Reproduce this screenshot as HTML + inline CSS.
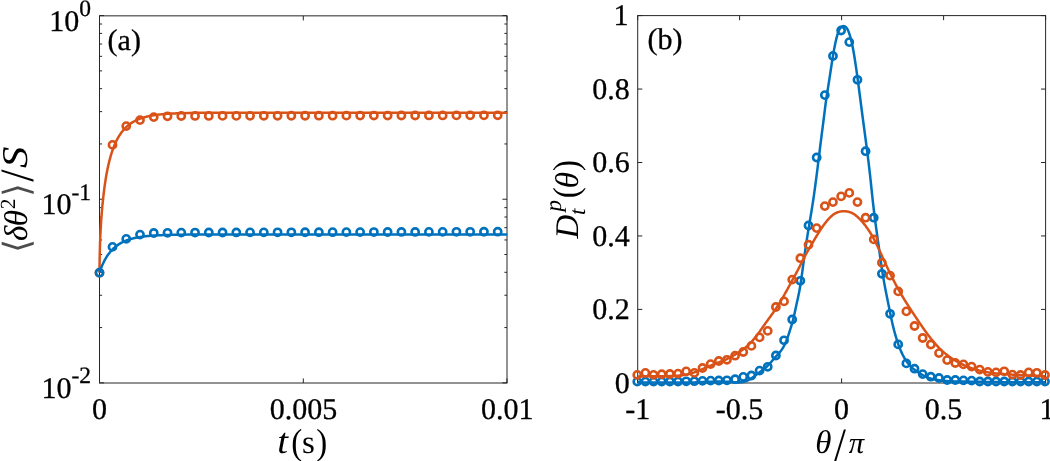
<!DOCTYPE html>
<html><head><meta charset="utf-8"><style>
html,body{margin:0;padding:0;background:#fff;}
body{width:1050px;height:461px;overflow:hidden;}
svg{display:block;text-rendering:geometricPrecision;}
</style></head><body>
<svg width="1050" height="461" viewBox="0 0 1050 461"><rect width="1050" height="461" fill="#fff"/><g fill="none" stroke="#262626" stroke-width="1.0"><rect x="99.5" y="15.85" width="407.5" height="367.15"/><rect x="637.7" y="15.6" width="407.9" height="367.4"/><path d="M99.5 383V378.4M99.5 15.85V20.45M303.3 383V378.4M303.3 15.85V20.45M507 383V378.4M507 15.85V20.45M99.5 382.85H104.1M507 382.85H502.4M99.5 199.22H104.1M507 199.22H502.4M99.5 15.6H104.1M507 15.6H502.4M637.7 383V378.4M637.7 15.6V20.2M739.6 383V378.4M739.6 15.6V20.2M841.6 383V378.4M841.6 15.6V20.2M943.6 383V378.4M943.6 15.6V20.2M1045.6 383V378.4M1045.6 15.6V20.2M637.7 382.85H642.3M1045.6 382.85H1041M637.7 309.4H642.3M1045.6 309.4H1041M637.7 235.95H642.3M1045.6 235.95H1041M637.7 162.5H642.3M1045.6 162.5H1041M637.7 89.05H642.3M1045.6 89.05H1041M637.7 15.6H642.3M1045.6 15.6H1041"/><path d="M99.5 327.57H102.1M507 327.57H504.4M99.5 295.24H102.1M507 295.24H504.4M99.5 272.3H102.1M507 272.3H504.4M99.5 254.5H102.1M507 254.5H504.4M99.5 239.96H102.1M507 239.96H504.4M99.5 227.67H102.1M507 227.67H504.4M99.5 217.02H102.1M507 217.02H504.4M99.5 207.63H102.1M507 207.63H504.4M99.5 143.95H102.1M507 143.95H504.4M99.5 111.61H102.1M507 111.61H504.4M99.5 88.67H102.1M507 88.67H504.4M99.5 70.88H102.1M507 70.88H504.4M99.5 56.34H102.1M507 56.34H504.4M99.5 44.04H102.1M507 44.04H504.4M99.5 33.4H102.1M507 33.4H504.4M99.5 24H102.1M507 24H504.4"/></g><g fill="none" stroke-linejoin="round" stroke-linecap="butt"><path d="M99.45 272.61 L99.52 267.46 L99.59 263.00 L99.66 259.09 L99.73 255.63 L99.80 252.54 L99.86 249.75 L99.93 247.22 L100.00 244.90 L100.07 242.77 L100.14 240.79 L100.21 238.94 L100.28 237.21 L100.35 235.59 L100.42 234.05 L100.49 232.59 L100.56 231.19 L100.63 229.86 L100.69 228.58 L100.76 227.35 L100.83 226.17 L100.90 225.02 L100.97 223.91 L101.04 222.83 L101.11 221.78 L101.18 220.75 L101.25 219.76 L101.32 218.78 L101.39 217.83 L101.45 216.90 L101.52 215.99 L101.59 215.09 L101.66 214.21 L101.73 213.35 L101.80 212.50 L101.87 211.67 L101.94 210.85 L102.01 210.05 L102.08 209.25 L102.15 208.47 L102.22 207.71 L102.28 206.95 L102.35 206.20 L102.42 205.47 L102.49 204.74 L102.56 204.03 L102.63 203.32 L102.70 202.62 L102.77 201.94 L102.84 201.26 L102.91 200.59 L102.98 199.93 L103.04 199.28 L103.11 198.63 L103.18 198.00 L103.25 197.37 L103.32 196.75 L103.39 196.13 L103.46 195.53 L103.53 194.93 L103.92 191.68 L104.31 188.63 L104.70 185.76 L105.09 183.05 L105.48 180.49 L105.86 178.06 L106.25 175.76 L106.64 173.58 L107.03 171.50 L107.42 169.52 L107.81 167.64 L108.20 165.84 L108.59 164.12 L108.98 162.47 L109.37 160.89 L109.76 159.38 L110.15 157.93 L110.54 156.54 L110.93 155.21 L111.32 153.92 L111.71 152.69 L112.10 151.50 L112.48 150.36 L112.87 149.26 L113.26 148.20 L113.65 147.17 L114.04 146.19 L114.43 145.23 L114.82 144.31 L115.21 143.42 L115.60 142.56 L115.99 141.73 L116.38 140.93 L116.77 140.15 L117.16 139.40 L117.55 138.67 L117.94 137.97 L118.33 137.29 L118.72 136.63 L119.10 135.99 L119.49 135.37 L119.88 134.76 L120.27 134.18 L120.66 133.61 L121.05 133.06 L121.44 132.53 L121.83 132.01 L122.22 131.51 L122.61 131.03 L123.00 130.55 L123.39 130.09 L123.78 129.65 L124.17 129.21 L124.56 128.79 L124.95 128.38 L125.34 127.98 L125.72 127.59 L126.11 127.22 L126.50 126.85 L126.89 126.49 L127.28 126.15 L127.67 125.81 L128.06 125.48 L128.45 125.16 L128.84 124.85 L129.23 124.55 L129.62 124.26 L130.01 123.97 L130.40 123.69 L130.79 123.42 L131.18 123.16 L131.57 122.90 L131.96 122.65 L132.34 122.41 L132.73 122.17 L133.12 121.94 L133.51 121.71 L133.90 121.49 L134.29 121.28 L134.68 121.07 L135.07 120.87 L135.46 120.67 L135.85 120.47 L136.24 120.29 L136.63 120.10 L137.02 119.92 L137.41 119.75 L137.80 119.58 L138.19 119.41 L138.57 119.25 L138.96 119.10 L139.35 118.94 L139.74 118.79 L140.13 118.65 L140.52 118.50 L140.91 118.37 L141.30 118.23 L141.69 118.10 L142.08 117.97 L142.47 117.84 L142.86 117.72 L143.25 117.60 L143.64 117.48 L144.03 117.37 L144.42 117.26 L144.81 117.15 L145.19 117.05 L145.58 116.94 L145.97 116.84 L146.36 116.74 L146.75 116.65 L147.14 116.55 L147.53 116.46 L147.92 116.37 L148.31 116.29 L148.70 116.20 L149.09 116.12 L149.48 116.04 L149.87 115.96 L150.26 115.88 L150.65 115.81 L151.04 115.74 L151.43 115.66 L151.81 115.59 L152.20 115.53 L152.59 115.46 L152.98 115.39 L153.37 115.33 L153.76 115.27 L154.15 115.21 L154.54 115.15 L154.93 115.09 L155.32 115.04 L155.71 114.98 L156.10 114.93 L156.49 114.88 L156.88 114.82 L157.27 114.77 L157.66 114.73 L158.05 114.68 L158.43 114.63 L158.82 114.59 L159.21 114.54 L159.60 114.50 L159.99 114.46 L160.38 114.42 L160.77 114.38 L161.16 114.34 L161.55 114.30 L161.94 114.26 L162.33 114.22 L162.72 114.19 L163.11 114.15 L163.50 114.12 L163.89 114.09 L164.28 114.05 L164.67 114.02 L165.05 113.99 L165.44 113.96 L165.83 113.93 L166.22 113.90 L166.61 113.87 L167.00 113.85 L167.39 113.82 L167.78 113.79 L168.17 113.77 L168.56 113.74 L168.95 113.72 L169.34 113.70 L169.73 113.67 L170.12 113.65 L170.51 113.63 L170.90 113.60 L171.28 113.58 L171.67 113.56 L172.06 113.54 L172.45 113.52 L172.84 113.50 L173.23 113.48 L173.62 113.47 L174.01 113.45 L174.40 113.43 L174.79 113.41 L175.18 113.40 L175.57 113.38 L175.96 113.36 L176.35 113.35 L176.74 113.33 L177.13 113.32 L177.52 113.30 L177.90 113.29 L178.29 113.28 L178.68 113.26 L179.07 113.25 L179.46 113.24 L179.85 113.22 L180.24 113.21 L180.63 113.20 L181.02 113.19 L189.39 112.99 L197.75 112.87 L206.12 112.80 L214.48 112.76 L222.85 112.73 L231.22 112.71 L239.58 112.70 L247.95 112.70 L256.32 112.69 L264.68 112.69 L273.05 112.69 L281.41 112.69 L289.78 112.69 L298.15 112.69 L306.51 112.69 L314.88 112.69 L323.24 112.69 L331.61 112.69 L339.98 112.69 L348.34 112.69 L356.71 112.69 L365.08 112.69 L373.44 112.69 L381.81 112.69 L390.17 112.69 L398.54 112.69 L406.91 112.69 L415.27 112.69 L423.64 112.69 L432.00 112.69 L440.37 112.69 L448.74 112.69 L457.10 112.69 L465.47 112.69 L473.84 112.69 L482.20 112.69 L490.57 112.69 L498.93 112.69 L507.30 112.69" stroke="#D95319" stroke-width="2.5"/><g stroke="#D95319" stroke-width="2.6"><circle cx="99.50" cy="272.70" r="3.6"/><circle cx="112.50" cy="144.90" r="3.6"/><circle cx="126.26" cy="126.10" r="3.6"/><circle cx="140.01" cy="120.10" r="3.6"/><circle cx="153.77" cy="117.10" r="3.6"/><circle cx="167.53" cy="116.30" r="3.6"/><circle cx="181.28" cy="116.00" r="3.6"/><circle cx="195.04" cy="115.97" r="3.6"/><circle cx="208.80" cy="115.94" r="3.6"/><circle cx="222.56" cy="115.91" r="3.6"/><circle cx="236.31" cy="115.88" r="3.6"/><circle cx="250.07" cy="115.85" r="3.6"/><circle cx="263.83" cy="115.82" r="3.6"/><circle cx="277.58" cy="115.79" r="3.6"/><circle cx="291.34" cy="115.76" r="3.6"/><circle cx="305.10" cy="115.73" r="3.6"/><circle cx="318.86" cy="115.70" r="3.6"/><circle cx="332.61" cy="115.67" r="3.6"/><circle cx="346.37" cy="115.63" r="3.6"/><circle cx="360.13" cy="115.60" r="3.6"/><circle cx="373.88" cy="115.57" r="3.6"/><circle cx="387.64" cy="115.54" r="3.6"/><circle cx="401.40" cy="115.51" r="3.6"/><circle cx="415.15" cy="115.48" r="3.6"/><circle cx="428.91" cy="115.45" r="3.6"/><circle cx="442.67" cy="115.42" r="3.6"/><circle cx="456.43" cy="115.39" r="3.6"/><circle cx="470.18" cy="115.36" r="3.6"/><circle cx="483.94" cy="115.33" r="3.6"/><circle cx="497.70" cy="115.30" r="3.6"/></g><path d="M99.45 272.71 L99.52 272.50 L99.59 272.30 L99.66 272.09 L99.73 271.89 L99.80 271.68 L99.86 271.48 L99.93 271.28 L100.00 271.08 L100.07 270.89 L100.14 270.69 L100.21 270.50 L100.28 270.30 L100.35 270.11 L100.42 269.92 L100.49 269.73 L100.56 269.54 L100.63 269.36 L100.69 269.17 L100.76 268.99 L100.83 268.80 L100.90 268.62 L100.97 268.44 L101.04 268.26 L101.11 268.08 L101.18 267.90 L101.25 267.73 L101.32 267.55 L101.39 267.38 L101.45 267.21 L101.52 267.03 L101.59 266.86 L101.66 266.69 L101.73 266.52 L101.80 266.36 L101.87 266.19 L101.94 266.03 L102.01 265.86 L102.08 265.70 L102.15 265.54 L102.22 265.37 L102.28 265.21 L102.35 265.05 L102.42 264.90 L102.49 264.74 L102.56 264.58 L102.63 264.43 L102.70 264.27 L102.77 264.12 L102.84 263.97 L102.91 263.82 L102.98 263.67 L103.04 263.52 L103.11 263.37 L103.18 263.22 L103.25 263.07 L103.32 262.93 L103.39 262.78 L103.46 262.64 L103.53 262.49 L103.92 261.70 L104.31 260.94 L104.70 260.20 L105.09 259.48 L105.48 258.79 L105.86 258.12 L106.25 257.47 L106.64 256.84 L107.03 256.23 L107.42 255.64 L107.81 255.07 L108.20 254.51 L108.59 253.97 L108.98 253.45 L109.37 252.95 L109.76 252.45 L110.15 251.98 L110.54 251.52 L110.93 251.07 L111.32 250.63 L111.71 250.21 L112.10 249.80 L112.48 249.40 L112.87 249.01 L113.26 248.63 L113.65 248.27 L114.04 247.91 L114.43 247.57 L114.82 247.23 L115.21 246.90 L115.60 246.58 L115.99 246.28 L116.38 245.97 L116.77 245.68 L117.16 245.40 L117.55 245.12 L117.94 244.85 L118.33 244.59 L118.72 244.33 L119.10 244.09 L119.49 243.85 L119.88 243.61 L120.27 243.38 L120.66 243.16 L121.05 242.94 L121.44 242.73 L121.83 242.53 L122.22 242.32 L122.61 242.13 L123.00 241.94 L123.39 241.76 L123.78 241.57 L124.17 241.40 L124.56 241.23 L124.95 241.06 L125.34 240.90 L125.72 240.74 L126.11 240.59 L126.50 240.44 L126.89 240.29 L127.28 240.15 L127.67 240.01 L128.06 239.87 L128.45 239.74 L128.84 239.61 L129.23 239.49 L129.62 239.37 L130.01 239.25 L130.40 239.13 L130.79 239.02 L131.18 238.91 L131.57 238.80 L131.96 238.69 L132.34 238.59 L132.73 238.49 L133.12 238.40 L133.51 238.30 L133.90 238.21 L134.29 238.12 L134.68 238.03 L135.07 237.94 L135.46 237.86 L135.85 237.78 L136.24 237.70 L136.63 237.62 L137.02 237.55 L137.41 237.47 L137.80 237.40 L138.19 237.33 L138.57 237.26 L138.96 237.19 L139.35 237.13 L139.74 237.07 L140.13 237.00 L140.52 236.94 L140.91 236.88 L141.30 236.83 L141.69 236.77 L142.08 236.72 L142.47 236.66 L142.86 236.61 L143.25 236.56 L143.64 236.51 L144.03 236.46 L144.42 236.41 L144.81 236.37 L145.19 236.32 L145.58 236.28 L145.97 236.24 L146.36 236.19 L146.75 236.15 L147.14 236.11 L147.53 236.07 L147.92 236.04 L148.31 236.00 L148.70 235.96 L149.09 235.93 L149.48 235.89 L149.87 235.86 L150.26 235.83 L150.65 235.80 L151.04 235.76 L151.43 235.73 L151.81 235.70 L152.20 235.68 L152.59 235.65 L152.98 235.62 L153.37 235.59 L153.76 235.57 L154.15 235.54 L154.54 235.52 L154.93 235.49 L155.32 235.47 L155.71 235.44 L156.10 235.42 L156.49 235.40 L156.88 235.38 L157.27 235.36 L157.66 235.34 L158.05 235.32 L158.43 235.30 L158.82 235.28 L159.21 235.26 L159.60 235.24 L159.99 235.22 L160.38 235.20 L160.77 235.19 L161.16 235.17 L161.55 235.16 L161.94 235.14 L162.33 235.12 L162.72 235.11 L163.11 235.09 L163.50 235.08 L163.89 235.07 L164.28 235.05 L164.67 235.04 L165.05 235.03 L165.44 235.01 L165.83 235.00 L166.22 234.99 L166.61 234.98 L167.00 234.97 L167.39 234.95 L167.78 234.94 L168.17 234.93 L168.56 234.92 L168.95 234.91 L169.34 234.90 L169.73 234.89 L170.12 234.88 L170.51 234.87 L170.90 234.86 L171.28 234.86 L171.67 234.85 L172.06 234.84 L172.45 234.83 L172.84 234.82 L173.23 234.81 L173.62 234.81 L174.01 234.80 L174.40 234.79 L174.79 234.78 L175.18 234.78 L175.57 234.77 L175.96 234.76 L176.35 234.76 L176.74 234.75 L177.13 234.75 L177.52 234.74 L177.90 234.73 L178.29 234.73 L178.68 234.72 L179.07 234.72 L179.46 234.71 L179.85 234.71 L180.24 234.70 L180.63 234.70 L181.02 234.69 L189.39 234.61 L197.75 234.56 L206.12 234.53 L214.48 234.52 L222.85 234.51 L231.22 234.50 L239.58 234.50 L247.95 234.50 L256.32 234.49 L264.68 234.49 L273.05 234.49 L281.41 234.49 L289.78 234.49 L298.15 234.49 L306.51 234.49 L314.88 234.49 L323.24 234.49 L331.61 234.49 L339.98 234.49 L348.34 234.49 L356.71 234.49 L365.08 234.49 L373.44 234.49 L381.81 234.49 L390.17 234.49 L398.54 234.49 L406.91 234.49 L415.27 234.49 L423.64 234.49 L432.00 234.49 L440.37 234.49 L448.74 234.49 L457.10 234.49 L465.47 234.49 L473.84 234.49 L482.20 234.49 L490.57 234.49 L498.93 234.49 L507.30 234.49" stroke="#0072BD" stroke-width="2.5"/><g stroke="#0072BD" stroke-width="2.6"><circle cx="99.50" cy="272.70" r="3.6"/><circle cx="112.50" cy="246.90" r="3.6"/><circle cx="126.26" cy="238.90" r="3.6"/><circle cx="140.01" cy="234.60" r="3.6"/><circle cx="153.77" cy="233.00" r="3.6"/><circle cx="167.53" cy="232.80" r="3.6"/><circle cx="181.28" cy="232.60" r="3.6"/><circle cx="195.04" cy="232.56" r="3.6"/><circle cx="208.80" cy="232.52" r="3.6"/><circle cx="222.56" cy="232.48" r="3.6"/><circle cx="236.31" cy="232.44" r="3.6"/><circle cx="250.07" cy="232.40" r="3.6"/><circle cx="263.83" cy="232.37" r="3.6"/><circle cx="277.58" cy="232.33" r="3.6"/><circle cx="291.34" cy="232.29" r="3.6"/><circle cx="305.10" cy="232.25" r="3.6"/><circle cx="318.86" cy="232.21" r="3.6"/><circle cx="332.61" cy="232.17" r="3.6"/><circle cx="346.37" cy="232.13" r="3.6"/><circle cx="360.13" cy="232.09" r="3.6"/><circle cx="373.88" cy="232.05" r="3.6"/><circle cx="387.64" cy="232.01" r="3.6"/><circle cx="401.40" cy="231.97" r="3.6"/><circle cx="415.15" cy="231.93" r="3.6"/><circle cx="428.91" cy="231.90" r="3.6"/><circle cx="442.67" cy="231.86" r="3.6"/><circle cx="456.43" cy="231.82" r="3.6"/><circle cx="470.18" cy="231.78" r="3.6"/><circle cx="483.94" cy="231.74" r="3.6"/><circle cx="497.70" cy="231.70" r="3.6"/></g><path d="M637.65 382.30 L638.23 382.31 L638.82 382.32 L639.40 382.33 L639.98 382.34 L640.57 382.35 L641.15 382.36 L641.73 382.37 L642.32 382.38 L642.90 382.39 L643.48 382.40 L644.07 382.40 L644.65 382.40 L645.23 382.40 L645.82 382.40 L646.40 382.40 L646.98 382.40 L647.57 382.40 L648.15 382.40 L648.73 382.40 L649.32 382.40 L649.90 382.40 L650.48 382.40 L651.07 382.40 L651.65 382.40 L652.23 382.40 L652.82 382.40 L653.40 382.40 L653.98 382.40 L654.57 382.40 L655.15 382.40 L655.73 382.40 L656.32 382.40 L656.90 382.40 L657.48 382.40 L658.07 382.40 L658.65 382.40 L659.23 382.40 L659.82 382.40 L660.40 382.40 L660.98 382.40 L661.57 382.40 L662.15 382.40 L662.73 382.40 L663.32 382.40 L663.90 382.40 L664.48 382.40 L665.07 382.40 L665.65 382.40 L666.23 382.40 L666.82 382.40 L667.40 382.40 L667.98 382.40 L668.57 382.40 L669.15 382.40 L669.73 382.40 L670.32 382.40 L670.90 382.40 L671.48 382.40 L672.07 382.40 L672.65 382.40 L673.23 382.40 L673.82 382.40 L674.40 382.40 L674.98 382.40 L675.57 382.40 L676.15 382.40 L676.73 382.40 L677.32 382.40 L677.90 382.40 L678.48 382.40 L679.07 382.40 L679.65 382.40 L680.23 382.40 L680.82 382.40 L681.40 382.40 L681.98 382.40 L682.57 382.40 L683.15 382.40 L683.73 382.40 L684.32 382.40 L684.90 382.40 L685.48 382.40 L686.07 382.40 L686.65 382.40 L687.23 382.40 L687.82 382.40 L688.40 382.40 L688.98 382.40 L689.57 382.40 L690.15 382.40 L690.73 382.40 L691.32 382.40 L691.90 382.40 L692.48 382.40 L693.07 382.40 L693.65 382.40 L694.23 382.40 L694.82 382.38 L695.40 382.37 L695.98 382.35 L696.57 382.33 L697.15 382.31 L697.73 382.29 L698.32 382.27 L698.90 382.24 L699.48 382.22 L700.07 382.20 L700.65 382.17 L701.23 382.15 L701.82 382.12 L702.40 382.10 L702.98 382.07 L703.57 382.05 L704.15 382.02 L704.73 382.00 L705.32 381.97 L705.90 381.94 L706.48 381.92 L707.07 381.89 L707.65 381.87 L708.23 381.84 L708.82 381.82 L709.40 381.79 L709.98 381.77 L710.57 381.75 L711.15 381.72 L711.73 381.70 L712.32 381.68 L712.90 381.66 L713.48 381.65 L714.07 381.63 L714.65 381.61 L715.23 381.60 L715.82 381.59 L716.40 381.57 L716.98 381.56 L717.57 381.56 L718.15 381.55 L718.73 381.54 L719.32 381.54 L719.90 381.54 L720.48 381.54 L721.07 381.54 L721.65 381.55 L722.23 381.56 L722.82 381.57 L723.40 381.58 L723.98 381.59 L724.57 381.61 L725.15 381.63 L725.73 381.65 L726.32 381.68 L726.90 381.70 L727.48 381.73 L728.07 381.77 L728.65 381.80 L729.23 381.85 L729.82 381.89 L730.40 381.93 L730.98 381.98 L731.57 382.04 L732.15 382.09 L732.73 382.14 L733.32 382.19 L733.90 382.24 L734.48 382.28 L735.07 382.32 L735.65 382.36 L736.23 382.39 L736.82 382.40 L737.40 382.40 L737.98 382.40 L738.57 382.40 L739.15 382.40 L739.73 382.40 L740.32 382.36 L740.90 382.31 L741.48 382.25 L742.07 382.17 L742.65 382.07 L743.23 381.96 L743.82 381.82 L744.40 381.67 L744.98 381.50 L745.57 381.31 L746.15 381.10 L746.73 380.86 L747.32 380.61 L747.90 380.34 L748.48 380.05 L749.07 379.74 L749.65 379.42 L750.23 379.07 L750.82 378.71 L751.40 378.34 L751.98 377.95 L752.57 377.54 L753.15 377.13 L753.73 376.70 L754.32 376.27 L754.90 375.83 L755.48 375.38 L756.07 374.94 L756.65 374.49 L757.23 374.03 L757.82 373.59 L758.40 373.14 L758.98 372.70 L759.57 372.26 L760.15 371.83 L760.73 371.40 L761.32 370.98 L761.90 370.55 L762.48 370.11 L763.07 369.67 L763.65 369.23 L764.23 368.77 L764.82 368.30 L765.40 367.81 L765.98 367.30 L766.57 366.78 L767.15 366.24 L767.73 365.67 L768.32 365.08 L768.90 364.47 L769.48 363.84 L770.07 363.20 L770.65 362.55 L771.23 361.88 L771.82 361.21 L772.40 360.54 L772.98 359.86 L773.57 359.18 L774.15 358.51 L774.73 357.84 L775.32 357.17 L775.90 356.52 L776.48 355.88 L777.07 355.25 L777.65 354.61 L778.23 353.97 L778.82 353.31 L779.40 352.64 L779.98 351.93 L780.57 351.20 L781.15 350.43 L781.73 349.61 L782.32 348.74 L782.90 347.81 L783.48 346.81 L784.07 345.75 L784.65 344.61 L785.23 343.38 L785.82 342.06 L786.40 340.65 L786.98 339.13 L787.57 337.52 L788.15 335.84 L788.73 334.09 L789.32 332.29 L789.90 330.47 L790.48 328.63 L791.07 326.77 L791.65 324.86 L792.23 322.87 L792.82 320.76 L793.40 318.50 L793.98 316.07 L794.57 313.46 L795.15 310.76 L795.73 308.00 L796.32 305.25 L796.90 302.56 L797.48 299.95 L798.07 297.32 L798.65 294.59 L799.23 291.67 L799.82 288.46 L800.40 284.92 L800.98 281.10 L801.57 277.05 L802.15 272.84 L802.73 268.52 L803.32 264.14 L803.90 259.78 L804.48 255.48 L805.07 251.30 L805.65 247.27 L806.23 243.37 L806.82 239.58 L807.40 235.89 L807.98 232.28 L808.57 228.73 L809.15 225.22 L809.73 221.73 L810.32 218.25 L810.90 214.74 L811.48 211.19 L812.07 207.57 L812.65 203.86 L813.23 200.03 L813.82 196.06 L814.40 191.95 L814.98 187.72 L815.57 183.37 L816.15 178.93 L816.73 174.41 L817.32 169.81 L817.90 165.16 L818.48 160.46 L819.07 155.73 L819.65 150.98 L820.23 146.25 L820.82 141.57 L821.40 136.97 L821.98 132.43 L822.57 127.93 L823.15 123.38 L823.73 118.76 L824.32 114.04 L824.90 109.33 L825.48 104.76 L826.07 100.47 L826.65 96.50 L827.23 92.75 L827.82 89.08 L828.40 85.40 L828.98 81.67 L829.57 77.91 L830.15 74.10 L830.73 70.25 L831.32 66.38 L831.90 62.55 L832.48 58.82 L833.07 55.24 L833.65 51.85 L834.23 48.65 L834.82 45.66 L835.40 42.87 L835.98 40.29 L836.57 37.90 L837.15 35.73 L837.73 33.78 L838.32 32.07 L838.90 30.61 L839.48 29.40 L840.07 28.41 L840.65 27.62 L841.23 27.02 L841.82 26.59 L842.40 26.30 L842.98 26.15 L843.57 26.10 L844.15 26.16 L844.73 26.34 L845.32 26.66 L845.90 27.14 L846.48 27.78 L847.07 28.61 L847.65 29.63 L848.23 30.87 L848.82 32.32 L849.40 33.98 L849.98 35.83 L850.57 37.87 L851.15 40.11 L851.73 42.55 L852.32 45.23 L852.90 48.16 L853.48 51.33 L854.07 54.71 L854.65 58.28 L855.23 62.01 L855.82 65.89 L856.40 69.91 L856.98 74.04 L857.57 78.29 L858.15 82.62 L858.73 87.03 L859.32 91.49 L859.90 95.99 L860.48 100.51 L861.07 105.03 L861.65 109.53 L862.23 113.97 L862.82 118.38 L863.40 122.76 L863.98 127.12 L864.57 131.48 L865.15 135.84 L865.73 140.23 L866.32 144.65 L866.90 149.12 L867.48 153.67 L868.07 158.32 L868.65 163.08 L869.23 167.99 L869.82 173.06 L870.40 178.31 L870.98 183.75 L871.57 189.29 L872.15 194.83 L872.73 200.27 L873.32 205.50 L873.90 210.50 L874.48 215.27 L875.07 219.85 L875.65 224.25 L876.23 228.51 L876.82 232.67 L877.40 236.82 L877.98 241.02 L878.57 245.26 L879.15 249.53 L879.73 253.78 L880.32 257.98 L880.90 262.12 L881.48 266.14 L882.07 270.02 L882.65 273.73 L883.23 277.27 L883.82 280.66 L884.40 283.90 L884.98 287.03 L885.57 290.05 L886.15 293.00 L886.73 295.91 L887.32 298.80 L887.90 301.72 L888.48 304.65 L889.07 307.57 L889.65 310.48 L890.23 313.35 L890.82 316.17 L891.40 318.93 L891.98 321.60 L892.57 324.16 L893.15 326.62 L893.73 328.97 L894.32 331.21 L894.90 333.36 L895.48 335.42 L896.07 337.40 L896.65 339.30 L897.23 341.12 L897.82 342.87 L898.40 344.55 L898.98 346.15 L899.57 347.69 L900.15 349.15 L900.73 350.54 L901.32 351.87 L901.90 353.13 L902.48 354.33 L903.07 355.47 L903.65 356.56 L904.23 357.60 L904.82 358.59 L905.40 359.54 L905.98 360.45 L906.57 361.33 L907.15 362.18 L907.73 362.98 L908.32 363.75 L908.90 364.47 L909.48 365.15 L910.07 365.79 L910.65 366.39 L911.23 366.96 L911.82 367.50 L912.40 368.01 L912.98 368.49 L913.57 368.95 L914.15 369.40 L914.73 369.83 L915.32 370.25 L915.90 370.66 L916.48 371.07 L917.07 371.47 L917.65 371.87 L918.23 372.27 L918.82 372.66 L919.40 373.04 L919.98 373.42 L920.57 373.79 L921.15 374.16 L921.73 374.51 L922.32 374.86 L922.90 375.20 L923.48 375.52 L924.07 375.83 L924.65 376.14 L925.23 376.42 L925.82 376.70 L926.40 376.96 L926.98 377.20 L927.57 377.43 L928.15 377.65 L928.73 377.86 L929.32 378.06 L929.90 378.25 L930.48 378.43 L931.07 378.59 L931.65 378.75 L932.23 378.91 L932.82 379.05 L933.40 379.19 L933.98 379.32 L934.57 379.45 L935.15 379.57 L935.73 379.68 L936.32 379.79 L936.90 379.90 L937.48 380.00 L938.07 380.10 L938.65 380.19 L939.23 380.28 L939.82 380.36 L940.40 380.44 L940.98 380.51 L941.57 380.59 L942.15 380.65 L942.73 380.72 L943.32 380.78 L943.90 380.83 L944.48 380.89 L945.07 380.94 L945.65 380.98 L946.23 381.03 L946.82 381.07 L947.40 381.10 L947.98 381.14 L948.57 381.17 L949.15 381.20 L949.73 381.23 L950.32 381.26 L950.90 381.28 L951.48 381.31 L952.07 381.33 L952.65 381.35 L953.23 381.36 L953.82 381.38 L954.40 381.40 L954.98 381.41 L955.57 381.42 L956.15 381.43 L956.73 381.45 L957.32 381.46 L957.90 381.47 L958.48 381.48 L959.07 381.49 L959.65 381.49 L960.23 381.50 L960.82 381.51 L961.40 381.52 L961.98 381.53 L962.57 381.54 L963.15 381.55 L963.73 381.56 L964.32 381.57 L964.90 381.58 L965.48 381.59 L966.07 381.60 L966.65 381.61 L967.23 381.62 L967.82 381.63 L968.40 381.64 L968.98 381.65 L969.57 381.66 L970.15 381.67 L970.73 381.68 L971.32 381.69 L971.90 381.70 L972.48 381.70 L973.07 381.71 L973.65 381.72 L974.23 381.73 L974.82 381.74 L975.40 381.75 L975.98 381.76 L976.57 381.77 L977.15 381.78 L977.73 381.79 L978.32 381.80 L978.90 381.81 L979.48 381.82 L980.07 381.83 L980.65 381.84 L981.23 381.85 L981.82 381.86 L982.40 381.86 L982.98 381.87 L983.57 381.88 L984.15 381.89 L984.73 381.90 L985.32 381.91 L985.90 381.92 L986.48 381.93 L987.07 381.94 L987.65 381.94 L988.23 381.95 L988.82 381.96 L989.40 381.97 L989.98 381.98 L990.57 381.98 L991.15 381.99 L991.73 382.00 L992.32 382.01 L992.90 382.02 L993.48 382.02 L994.07 382.03 L994.65 382.04 L995.23 382.05 L995.82 382.05 L996.40 382.06 L996.98 382.07 L997.57 382.07 L998.15 382.08 L998.73 382.09 L999.32 382.09 L999.90 382.10 L1000.48 382.11 L1001.07 382.11 L1001.65 382.12 L1002.23 382.12 L1002.82 382.13 L1003.40 382.13 L1003.98 382.14 L1004.57 382.14 L1005.15 382.15 L1005.73 382.15 L1006.32 382.16 L1006.90 382.16 L1007.48 382.17 L1008.07 382.17 L1008.65 382.18 L1009.23 382.18 L1009.82 382.19 L1010.40 382.19 L1010.98 382.19 L1011.57 382.20 L1012.15 382.20 L1012.73 382.20 L1013.32 382.21 L1013.90 382.21 L1014.48 382.21 L1015.07 382.22 L1015.65 382.22 L1016.23 382.22 L1016.82 382.23 L1017.40 382.23 L1017.98 382.23 L1018.57 382.24 L1019.15 382.24 L1019.73 382.24 L1020.32 382.24 L1020.90 382.25 L1021.48 382.25 L1022.07 382.25 L1022.65 382.25 L1023.23 382.25 L1023.82 382.26 L1024.40 382.26 L1024.98 382.26 L1025.57 382.26 L1026.15 382.26 L1026.73 382.27 L1027.32 382.27 L1027.90 382.27 L1028.48 382.27 L1029.07 382.27 L1029.65 382.27 L1030.23 382.27 L1030.82 382.28 L1031.40 382.28 L1031.98 382.28 L1032.57 382.28 L1033.15 382.28 L1033.73 382.28 L1034.32 382.28 L1034.90 382.28 L1035.48 382.29 L1036.07 382.29 L1036.65 382.29 L1037.23 382.29 L1037.82 382.29 L1038.40 382.29 L1038.98 382.29 L1039.57 382.29 L1040.15 382.29 L1040.73 382.29 L1041.32 382.29 L1041.90 382.30 L1042.48 382.30 L1043.07 382.30 L1043.65 382.30 L1044.23 382.30 L1044.82 382.30 L1045.40 382.30" stroke="#0072BD" stroke-width="2.5"/><g stroke="#0072BD" stroke-width="2.6"><circle cx="637.25" cy="381.60" r="3.6"/><circle cx="645.40" cy="381.60" r="3.6"/><circle cx="653.56" cy="381.60" r="3.6"/><circle cx="661.72" cy="381.60" r="3.6"/><circle cx="669.87" cy="381.50" r="3.6"/><circle cx="678.02" cy="381.50" r="3.6"/><circle cx="686.18" cy="381.30" r="3.6"/><circle cx="694.34" cy="381.20" r="3.6"/><circle cx="702.49" cy="380.90" r="3.6"/><circle cx="710.64" cy="380.60" r="3.6"/><circle cx="718.80" cy="380.50" r="3.6"/><circle cx="726.96" cy="380.30" r="3.6"/><circle cx="735.11" cy="379.20" r="3.6"/><circle cx="743.26" cy="376.90" r="3.6"/><circle cx="751.42" cy="375.50" r="3.6"/><circle cx="759.58" cy="370.60" r="3.6"/><circle cx="767.73" cy="366.80" r="3.6"/><circle cx="775.89" cy="355.50" r="3.6"/><circle cx="784.04" cy="340.30" r="3.6"/><circle cx="792.20" cy="319.50" r="3.6"/><circle cx="800.35" cy="280.80" r="3.6"/><circle cx="808.50" cy="225.50" r="3.6"/><circle cx="816.66" cy="157.50" r="3.6"/><circle cx="824.82" cy="95.10" r="3.6"/><circle cx="832.97" cy="56.00" r="3.6"/><circle cx="841.13" cy="30.50" r="3.6"/><circle cx="849.28" cy="42.10" r="3.6"/><circle cx="857.44" cy="79.80" r="3.6"/><circle cx="865.59" cy="151.20" r="3.6"/><circle cx="873.75" cy="217.70" r="3.6"/><circle cx="881.90" cy="273.80" r="3.6"/><circle cx="890.06" cy="313.80" r="3.6"/><circle cx="898.21" cy="344.40" r="3.6"/><circle cx="906.37" cy="363.40" r="3.6"/><circle cx="914.52" cy="368.70" r="3.6"/><circle cx="922.68" cy="374.10" r="3.6"/><circle cx="930.83" cy="376.70" r="3.6"/><circle cx="938.99" cy="378.00" r="3.6"/><circle cx="947.14" cy="380.00" r="3.6"/><circle cx="955.30" cy="380.00" r="3.6"/><circle cx="963.45" cy="380.40" r="3.6"/><circle cx="971.61" cy="380.60" r="3.6"/><circle cx="979.76" cy="381.50" r="3.6"/><circle cx="987.92" cy="381.50" r="3.6"/><circle cx="996.07" cy="381.50" r="3.6"/><circle cx="1004.23" cy="381.50" r="3.6"/><circle cx="1012.38" cy="381.50" r="3.6"/><circle cx="1020.54" cy="381.50" r="3.6"/><circle cx="1028.69" cy="381.50" r="3.6"/><circle cx="1036.85" cy="381.50" r="3.6"/><circle cx="1045.00" cy="381.50" r="3.6"/></g><path d="M637.65 376.40 L638.23 376.40 L638.82 376.39 L639.40 376.39 L639.98 376.39 L640.57 376.39 L641.15 376.38 L641.73 376.38 L642.32 376.38 L642.90 376.38 L643.48 376.37 L644.07 376.37 L644.65 376.37 L645.23 376.36 L645.82 376.36 L646.40 376.36 L646.98 376.35 L647.57 376.35 L648.15 376.35 L648.73 376.34 L649.32 376.34 L649.90 376.34 L650.48 376.33 L651.07 376.33 L651.65 376.33 L652.23 376.32 L652.82 376.32 L653.40 376.31 L653.98 376.31 L654.57 376.31 L655.15 376.30 L655.73 376.30 L656.32 376.29 L656.90 376.29 L657.48 376.28 L658.07 376.28 L658.65 376.27 L659.23 376.27 L659.82 376.26 L660.40 376.26 L660.98 376.25 L661.57 376.24 L662.15 376.24 L662.73 376.23 L663.32 376.22 L663.90 376.22 L664.48 376.21 L665.07 376.20 L665.65 376.20 L666.23 376.19 L666.82 376.18 L667.40 376.17 L667.98 376.16 L668.57 376.15 L669.15 376.14 L669.73 376.12 L670.32 376.11 L670.90 376.09 L671.48 376.08 L672.07 376.06 L672.65 376.03 L673.23 376.01 L673.82 375.98 L674.40 375.95 L674.98 375.92 L675.57 375.89 L676.15 375.85 L676.73 375.81 L677.32 375.77 L677.90 375.72 L678.48 375.67 L679.07 375.62 L679.65 375.56 L680.23 375.49 L680.82 375.43 L681.40 375.36 L681.98 375.28 L682.57 375.20 L683.15 375.12 L683.73 375.03 L684.32 374.93 L684.90 374.83 L685.48 374.73 L686.07 374.62 L686.65 374.50 L687.23 374.38 L687.82 374.25 L688.40 374.11 L688.98 373.97 L689.57 373.83 L690.15 373.67 L690.73 373.51 L691.32 373.34 L691.90 373.17 L692.48 372.99 L693.07 372.80 L693.65 372.60 L694.23 372.40 L694.82 372.18 L695.40 371.97 L695.98 371.74 L696.57 371.51 L697.15 371.27 L697.73 371.04 L698.32 370.79 L698.90 370.55 L699.48 370.30 L700.07 370.05 L700.65 369.80 L701.23 369.55 L701.82 369.30 L702.40 369.05 L702.98 368.80 L703.57 368.56 L704.15 368.31 L704.73 368.07 L705.32 367.82 L705.90 367.58 L706.48 367.34 L707.07 367.10 L707.65 366.85 L708.23 366.61 L708.82 366.37 L709.40 366.13 L709.98 365.89 L710.57 365.65 L711.15 365.40 L711.73 365.16 L712.32 364.92 L712.90 364.68 L713.48 364.44 L714.07 364.19 L714.65 363.95 L715.23 363.71 L715.82 363.48 L716.40 363.24 L716.98 363.01 L717.57 362.77 L718.15 362.54 L718.73 362.31 L719.32 362.09 L719.90 361.86 L720.48 361.64 L721.07 361.42 L721.65 361.19 L722.23 360.97 L722.82 360.74 L723.40 360.51 L723.98 360.27 L724.57 360.03 L725.15 359.79 L725.73 359.54 L726.32 359.28 L726.90 359.01 L727.48 358.74 L728.07 358.45 L728.65 358.16 L729.23 357.86 L729.82 357.56 L730.40 357.25 L730.98 356.93 L731.57 356.61 L732.15 356.28 L732.73 355.95 L733.32 355.61 L733.90 355.28 L734.48 354.94 L735.07 354.59 L735.65 354.25 L736.23 353.90 L736.82 353.55 L737.40 353.20 L737.98 352.85 L738.57 352.48 L739.15 352.12 L739.73 351.74 L740.32 351.36 L740.90 350.97 L741.48 350.57 L742.07 350.17 L742.65 349.75 L743.23 349.32 L743.82 348.88 L744.40 348.43 L744.98 347.96 L745.57 347.48 L746.15 346.99 L746.73 346.48 L747.32 345.96 L747.90 345.42 L748.48 344.87 L749.07 344.30 L749.65 343.72 L750.23 343.13 L750.82 342.52 L751.40 341.90 L751.98 341.26 L752.57 340.61 L753.15 339.94 L753.73 339.26 L754.32 338.56 L754.90 337.85 L755.48 337.12 L756.07 336.38 L756.65 335.62 L757.23 334.85 L757.82 334.07 L758.40 333.28 L758.98 332.48 L759.57 331.67 L760.15 330.85 L760.73 330.02 L761.32 329.20 L761.90 328.36 L762.48 327.53 L763.07 326.70 L763.65 325.86 L764.23 325.03 L764.82 324.21 L765.40 323.38 L765.98 322.57 L766.57 321.76 L767.15 320.95 L767.73 320.15 L768.32 319.35 L768.90 318.55 L769.48 317.75 L770.07 316.95 L770.65 316.15 L771.23 315.35 L771.82 314.54 L772.40 313.73 L772.98 312.91 L773.57 312.08 L774.15 311.24 L774.73 310.39 L775.32 309.54 L775.90 308.67 L776.48 307.78 L777.07 306.89 L777.65 305.98 L778.23 305.06 L778.82 304.13 L779.40 303.19 L779.98 302.23 L780.57 301.27 L781.15 300.30 L781.73 299.31 L782.32 298.32 L782.90 297.32 L783.48 296.30 L784.07 295.28 L784.65 294.25 L785.23 293.21 L785.82 292.17 L786.40 291.11 L786.98 290.05 L787.57 288.98 L788.15 287.91 L788.73 286.84 L789.32 285.76 L789.90 284.68 L790.48 283.60 L791.07 282.52 L791.65 281.45 L792.23 280.38 L792.82 279.31 L793.40 278.25 L793.98 277.19 L794.57 276.13 L795.15 275.07 L795.73 274.00 L796.32 272.93 L796.90 271.85 L797.48 270.75 L798.07 269.64 L798.65 268.52 L799.23 267.38 L799.82 266.22 L800.40 265.05 L800.98 263.87 L801.57 262.69 L802.15 261.52 L802.73 260.35 L803.32 259.19 L803.90 258.05 L804.48 256.93 L805.07 255.83 L805.65 254.75 L806.23 253.69 L806.82 252.64 L807.40 251.61 L807.98 250.58 L808.57 249.57 L809.15 248.56 L809.73 247.56 L810.32 246.55 L810.90 245.56 L811.48 244.56 L812.07 243.57 L812.65 242.58 L813.23 241.59 L813.82 240.61 L814.40 239.63 L814.98 238.66 L815.57 237.69 L816.15 236.73 L816.73 235.77 L817.32 234.82 L817.90 233.88 L818.48 232.94 L819.07 232.01 L819.65 231.10 L820.23 230.19 L820.82 229.29 L821.40 228.41 L821.98 227.54 L822.57 226.69 L823.15 225.85 L823.73 225.03 L824.32 224.22 L824.90 223.44 L825.48 222.67 L826.07 221.92 L826.65 221.20 L827.23 220.49 L827.82 219.81 L828.40 219.15 L828.98 218.51 L829.57 217.90 L830.15 217.32 L830.73 216.76 L831.32 216.23 L831.90 215.72 L832.48 215.24 L833.07 214.80 L833.65 214.38 L834.23 213.99 L834.82 213.63 L835.40 213.30 L835.98 213.00 L836.57 212.73 L837.15 212.48 L837.73 212.26 L838.32 212.06 L838.90 211.89 L839.48 211.74 L840.07 211.61 L840.65 211.51 L841.23 211.42 L841.82 211.35 L842.40 211.30 L842.98 211.27 L843.57 211.25 L844.15 211.25 L844.73 211.27 L845.32 211.30 L845.90 211.34 L846.48 211.41 L847.07 211.49 L847.65 211.59 L848.23 211.71 L848.82 211.85 L849.40 212.01 L849.98 212.19 L850.57 212.40 L851.15 212.63 L851.73 212.89 L852.32 213.18 L852.90 213.49 L853.48 213.83 L854.07 214.19 L854.65 214.59 L855.23 215.01 L855.82 215.45 L856.40 215.92 L856.98 216.42 L857.57 216.93 L858.15 217.47 L858.73 218.03 L859.32 218.61 L859.90 219.20 L860.48 219.82 L861.07 220.45 L861.65 221.10 L862.23 221.77 L862.82 222.45 L863.40 223.15 L863.98 223.86 L864.57 224.59 L865.15 225.34 L865.73 226.11 L866.32 226.89 L866.90 227.69 L867.48 228.51 L868.07 229.35 L868.65 230.22 L869.23 231.10 L869.82 232.01 L870.40 232.94 L870.98 233.89 L871.57 234.86 L872.15 235.86 L872.73 236.89 L873.32 237.94 L873.90 239.01 L874.48 240.12 L875.07 241.25 L875.65 242.40 L876.23 243.58 L876.82 244.77 L877.40 245.99 L877.98 247.22 L878.57 248.46 L879.15 249.72 L879.73 250.98 L880.32 252.26 L880.90 253.54 L881.48 254.82 L882.07 256.10 L882.65 257.39 L883.23 258.67 L883.82 259.95 L884.40 261.22 L884.98 262.49 L885.57 263.75 L886.15 265.00 L886.73 266.26 L887.32 267.50 L887.90 268.74 L888.48 269.96 L889.07 271.19 L889.65 272.40 L890.23 273.60 L890.82 274.80 L891.40 275.99 L891.98 277.16 L892.57 278.33 L893.15 279.49 L893.73 280.63 L894.32 281.77 L894.90 282.89 L895.48 284.01 L896.07 285.11 L896.65 286.20 L897.23 287.28 L897.82 288.36 L898.40 289.41 L898.98 290.46 L899.57 291.50 L900.15 292.52 L900.73 293.53 L901.32 294.53 L901.90 295.52 L902.48 296.50 L903.07 297.47 L903.65 298.43 L904.23 299.38 L904.82 300.33 L905.40 301.26 L905.98 302.19 L906.57 303.12 L907.15 304.03 L907.73 304.95 L908.32 305.85 L908.90 306.76 L909.48 307.66 L910.07 308.55 L910.65 309.45 L911.23 310.34 L911.82 311.23 L912.40 312.11 L912.98 312.99 L913.57 313.88 L914.15 314.75 L914.73 315.63 L915.32 316.51 L915.90 317.38 L916.48 318.25 L917.07 319.12 L917.65 319.99 L918.23 320.86 L918.82 321.73 L919.40 322.59 L919.98 323.45 L920.57 324.31 L921.15 325.17 L921.73 326.02 L922.32 326.86 L922.90 327.70 L923.48 328.54 L924.07 329.37 L924.65 330.19 L925.23 331.00 L925.82 331.81 L926.40 332.61 L926.98 333.40 L927.57 334.19 L928.15 334.97 L928.73 335.74 L929.32 336.50 L929.90 337.25 L930.48 338.00 L931.07 338.73 L931.65 339.46 L932.23 340.18 L932.82 340.89 L933.40 341.59 L933.98 342.28 L934.57 342.96 L935.15 343.63 L935.73 344.29 L936.32 344.94 L936.90 345.58 L937.48 346.21 L938.07 346.83 L938.65 347.43 L939.23 348.03 L939.82 348.61 L940.40 349.18 L940.98 349.75 L941.57 350.30 L942.15 350.84 L942.73 351.37 L943.32 351.89 L943.90 352.39 L944.48 352.89 L945.07 353.38 L945.65 353.86 L946.23 354.33 L946.82 354.80 L947.40 355.25 L947.98 355.69 L948.57 356.13 L949.15 356.56 L949.73 356.97 L950.32 357.38 L950.90 357.79 L951.48 358.18 L952.07 358.57 L952.65 358.95 L953.23 359.32 L953.82 359.69 L954.40 360.05 L954.98 360.40 L955.57 360.75 L956.15 361.09 L956.73 361.43 L957.32 361.75 L957.90 362.08 L958.48 362.39 L959.07 362.71 L959.65 363.01 L960.23 363.32 L960.82 363.61 L961.40 363.91 L961.98 364.19 L962.57 364.47 L963.15 364.75 L963.73 365.02 L964.32 365.29 L964.90 365.55 L965.48 365.81 L966.07 366.06 L966.65 366.31 L967.23 366.55 L967.82 366.79 L968.40 367.02 L968.98 367.25 L969.57 367.47 L970.15 367.69 L970.73 367.90 L971.32 368.11 L971.90 368.32 L972.48 368.52 L973.07 368.72 L973.65 368.91 L974.23 369.09 L974.82 369.28 L975.40 369.46 L975.98 369.63 L976.57 369.80 L977.15 369.97 L977.73 370.13 L978.32 370.28 L978.90 370.44 L979.48 370.59 L980.07 370.73 L980.65 370.87 L981.23 371.01 L981.82 371.14 L982.40 371.27 L982.98 371.40 L983.57 371.52 L984.15 371.64 L984.73 371.76 L985.32 371.87 L985.90 371.98 L986.48 372.08 L987.07 372.18 L987.65 372.28 L988.23 372.38 L988.82 372.47 L989.40 372.57 L989.98 372.65 L990.57 372.74 L991.15 372.82 L991.73 372.90 L992.32 372.98 L992.90 373.05 L993.48 373.13 L994.07 373.20 L994.65 373.26 L995.23 373.33 L995.82 373.39 L996.40 373.46 L996.98 373.52 L997.57 373.57 L998.15 373.63 L998.73 373.69 L999.32 373.74 L999.90 373.79 L1000.48 373.84 L1001.07 373.89 L1001.65 373.94 L1002.23 373.98 L1002.82 374.03 L1003.40 374.07 L1003.98 374.11 L1004.57 374.15 L1005.15 374.19 L1005.73 374.23 L1006.32 374.27 L1006.90 374.31 L1007.48 374.35 L1008.07 374.38 L1008.65 374.42 L1009.23 374.46 L1009.82 374.49 L1010.40 374.53 L1010.98 374.56 L1011.57 374.60 L1012.15 374.63 L1012.73 374.66 L1013.32 374.70 L1013.90 374.73 L1014.48 374.76 L1015.07 374.80 L1015.65 374.83 L1016.23 374.86 L1016.82 374.90 L1017.40 374.93 L1017.98 374.96 L1018.57 374.99 L1019.15 375.02 L1019.73 375.05 L1020.32 375.09 L1020.90 375.12 L1021.48 375.15 L1022.07 375.18 L1022.65 375.21 L1023.23 375.24 L1023.82 375.27 L1024.40 375.30 L1024.98 375.33 L1025.57 375.36 L1026.15 375.39 L1026.73 375.42 L1027.32 375.45 L1027.90 375.47 L1028.48 375.50 L1029.07 375.53 L1029.65 375.56 L1030.23 375.59 L1030.82 375.62 L1031.40 375.65 L1031.98 375.67 L1032.57 375.70 L1033.15 375.73 L1033.73 375.76 L1034.32 375.78 L1034.90 375.81 L1035.48 375.84 L1036.07 375.87 L1036.65 375.89 L1037.23 375.92 L1037.82 375.95 L1038.40 375.98 L1038.98 376.00 L1039.57 376.03 L1040.15 376.06 L1040.73 376.08 L1041.32 376.11 L1041.90 376.14 L1042.48 376.17 L1043.07 376.19 L1043.65 376.22 L1044.23 376.25 L1044.82 376.27 L1045.40 376.30" stroke="#D95319" stroke-width="2.5"/><g stroke="#D95319" stroke-width="2.6"><circle cx="637.25" cy="374.90" r="3.6"/><circle cx="645.40" cy="372.90" r="3.6"/><circle cx="653.56" cy="374.90" r="3.6"/><circle cx="661.72" cy="374.20" r="3.6"/><circle cx="669.87" cy="374.00" r="3.6"/><circle cx="678.02" cy="373.60" r="3.6"/><circle cx="686.18" cy="371.40" r="3.6"/><circle cx="694.34" cy="372.90" r="3.6"/><circle cx="702.49" cy="368.00" r="3.6"/><circle cx="710.64" cy="364.10" r="3.6"/><circle cx="718.80" cy="361.00" r="3.6"/><circle cx="726.96" cy="359.80" r="3.6"/><circle cx="735.11" cy="355.70" r="3.6"/><circle cx="743.26" cy="352.00" r="3.6"/><circle cx="751.42" cy="345.90" r="3.6"/><circle cx="759.58" cy="337.40" r="3.6"/><circle cx="767.73" cy="330.90" r="3.6"/><circle cx="775.89" cy="307.00" r="3.6"/><circle cx="784.04" cy="301.40" r="3.6"/><circle cx="792.20" cy="279.60" r="3.6"/><circle cx="800.35" cy="258.20" r="3.6"/><circle cx="808.50" cy="244.70" r="3.6"/><circle cx="816.66" cy="228.10" r="3.6"/><circle cx="824.82" cy="206.10" r="3.6"/><circle cx="832.97" cy="202.10" r="3.6"/><circle cx="841.13" cy="196.40" r="3.6"/><circle cx="849.28" cy="192.90" r="3.6"/><circle cx="857.44" cy="202.10" r="3.6"/><circle cx="865.59" cy="217.70" r="3.6"/><circle cx="873.75" cy="239.40" r="3.6"/><circle cx="881.90" cy="262.80" r="3.6"/><circle cx="890.06" cy="275.60" r="3.6"/><circle cx="898.21" cy="291.40" r="3.6"/><circle cx="906.37" cy="311.40" r="3.6"/><circle cx="914.52" cy="326.00" r="3.6"/><circle cx="922.68" cy="338.00" r="3.6"/><circle cx="930.83" cy="344.50" r="3.6"/><circle cx="938.99" cy="353.10" r="3.6"/><circle cx="947.14" cy="360.10" r="3.6"/><circle cx="955.30" cy="363.00" r="3.6"/><circle cx="963.45" cy="364.40" r="3.6"/><circle cx="971.61" cy="366.60" r="3.6"/><circle cx="979.76" cy="369.60" r="3.6"/><circle cx="987.92" cy="371.90" r="3.6"/><circle cx="996.07" cy="372.40" r="3.6"/><circle cx="1004.23" cy="371.30" r="3.6"/><circle cx="1012.38" cy="374.60" r="3.6"/><circle cx="1020.54" cy="375.00" r="3.6"/><circle cx="1028.69" cy="372.40" r="3.6"/><circle cx="1036.85" cy="372.80" r="3.6"/><circle cx="1045.00" cy="375.00" r="3.6"/></g></g><g style="font-family:'Liberation Serif','DejaVu Serif',serif;font-size:30px" fill="#000" stroke="#000" stroke-width="0.3"><text x="99.45" y="418.7" text-anchor="middle">0</text><text x="303.38" y="418.7" text-anchor="middle">0.005</text><text x="507.3" y="418.7" text-anchor="middle">0.01</text><text x="637.65" y="418.7" text-anchor="middle">-1</text><text x="739.59" y="418.7" text-anchor="middle">-0.5</text><text x="841.53" y="418.7" text-anchor="middle">0</text><text x="943.46" y="418.7" text-anchor="middle">0.5</text><text x="1046.9" y="418.7" text-anchor="middle">1</text><text x="629.7" y="392.6" text-anchor="end">0</text><text x="629.7" y="319.15" text-anchor="end">0.2</text><text x="629.7" y="245.7" text-anchor="end">0.4</text><text x="629.7" y="172.25" text-anchor="end">0.6</text><text x="629.7" y="98.8" text-anchor="end">0.8</text><text x="628.4000000000001" y="25.35" text-anchor="end">1</text><text x="91" y="30.5" text-anchor="end">10<tspan dy="-14.7" style="font-size:23.5px">0</tspan></text><text x="91" y="214.39999999999998" text-anchor="end">10<tspan dy="-14.7" style="font-size:23.5px">-1</tspan></text><text x="91" y="397.59999999999997" text-anchor="end">10<tspan dy="-14.7" style="font-size:23.5px">-2</tspan></text><text x="107.6" y="49.5">(a)</text><text x="647.5" y="48.6">(b)</text></g><g fill="#000"><text transform="translate(277.29,453.40) scale(1.08,1.0)" style="font-family:'Liberation Serif',serif;font-style:italic;font-size:36px">t</text><text transform="translate(291.15,454.20) scale(1.0,1.1)" style="font-family:'Liberation Serif',serif;font-style:normal;font-size:33px">(</text><text x="302.05" y="453.40" style="font-family:'Liberation Serif',serif;font-style:normal;font-size:33px">s</text><text transform="translate(316.34,454.20) scale(1.0,1.1)" style="font-family:'Liberation Serif',serif;font-style:normal;font-size:33px">)</text><text x="815.19" y="453.40" style="font-family:'Liberation Serif',serif;font-style:italic;font-size:33px">θ</text><text transform="translate(834.00,460.50) scale(1.3,1.45)" style="font-family:'Liberation Serif',serif;font-style:normal;font-size:33px">/</text><text x="848.74" y="453.40" style="font-family:'Liberation Serif',serif;font-style:italic;font-size:30.69px">π</text></g><g transform="translate(27.3,250) rotate(-90)" fill="#000"><text x="-3.12" y="1.60" style="font-family:'DejaVu Serif',serif;font-style:normal;font-size:36px" fill-opacity="0.7">⟨</text><text x="9.03" y="-0.30" style="font-family:'Liberation Serif',serif;font-style:italic;font-size:33px">δ</text><text x="23.89" y="-0.30" style="font-family:'Liberation Serif',serif;font-style:italic;font-size:33px">θ</text><text x="40.76" y="-12.50" style="font-family:'Liberation Serif',serif;font-style:normal;font-size:21.5px">2</text><text x="53.02" y="1.60" style="font-family:'DejaVu Serif',serif;font-style:normal;font-size:36px" fill-opacity="0.7">⟩</text><text transform="translate(68.30,6.00) scale(1.35,1.45)" style="font-family:'Liberation Serif',serif;font-style:normal;font-size:33px">/</text><text transform="translate(82.10,-0.35) scale(1.3,1.1)" style="font-family:'Liberation Serif',serif;font-style:italic;font-size:33px">S</text></g><g transform="translate(577.8,240) rotate(-90)" fill="#000"><text x="1.47" y="0.00" style="font-family:'Liberation Serif',serif;font-style:italic;font-size:33px">D</text><text x="28.45" y="-16.40" style="font-family:'Liberation Serif',serif;font-style:italic;font-size:23px">p</text><text x="24.99" y="7.60" style="font-family:'Liberation Serif',serif;font-style:italic;font-size:23px">t</text><text transform="translate(41.75,0.20) scale(1.0,1.1)" style="font-family:'Liberation Serif',serif;font-style:normal;font-size:33px">(</text><text x="51.79" y="0.00" style="font-family:'Liberation Serif',serif;font-style:italic;font-size:33px">θ</text><text transform="translate(69.04,0.20) scale(1.0,1.1)" style="font-family:'Liberation Serif',serif;font-style:normal;font-size:33px">)</text></g></svg>
</body></html>
